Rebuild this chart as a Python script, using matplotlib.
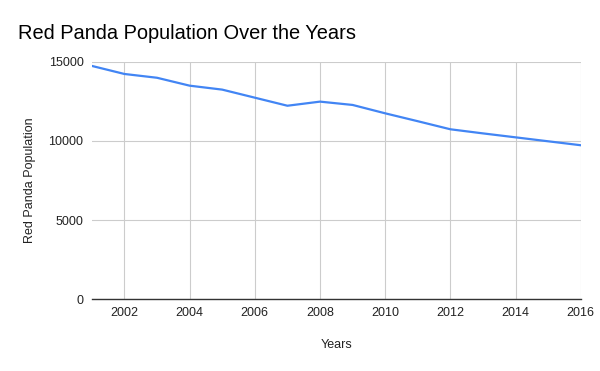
import matplotlib
matplotlib.use("Agg")
import matplotlib.pyplot as plt

# ---- DATA ---- #
years = list(range(2001, 2017))
population = [14750, 14240, 14000, 13500, 13250, 12740, 12230, 12490,
              12280, 11750, 11250, 10740, 10480, 10230, 9980, 9730]
x_ticks = [2002, 2004, 2006, 2008, 2010, 2012, 2014, 2016]
y_ticks = [0, 5000, 10000, 15000]

plt.rcParams['font.family'] = ['Liberation Sans', 'DejaVu Sans']

fig = plt.figure(figsize=(6, 3.71), dpi=100)
ax = fig.add_axes([0.153, 0.194, 0.815, 0.639])

ax.plot(years, population, color='#4285F4', linewidth=1.6)

ax.set_xlim(2001, 2016)
ax.set_ylim(0, 15000)
ax.set_xticks(x_ticks)
ax.set_yticks(y_ticks)
ax.grid(True, color='#cccccc', linewidth=0.8)
ax.set_axisbelow(True)

for side in ['top', 'right', 'left']:
    ax.spines[side].set_visible(False)
ax.spines['bottom'].set_color('#333333')
ax.spines['bottom'].set_linewidth(1.0)
ax.tick_params(length=0, labelsize=9, colors='#222222', pad=6)

ax.set_xlabel("Years", fontsize=9, color='#222222', labelpad=14)
ax.set_ylabel("Red Panda Population", fontsize=9, color='#222222', labelpad=9)

fig.text(0.03, 0.91, "Red Panda Population Over the Years", fontsize=14.4,
         color='#000000', va='center', ha='left')

fig.savefig("out.png", dpi=100)
